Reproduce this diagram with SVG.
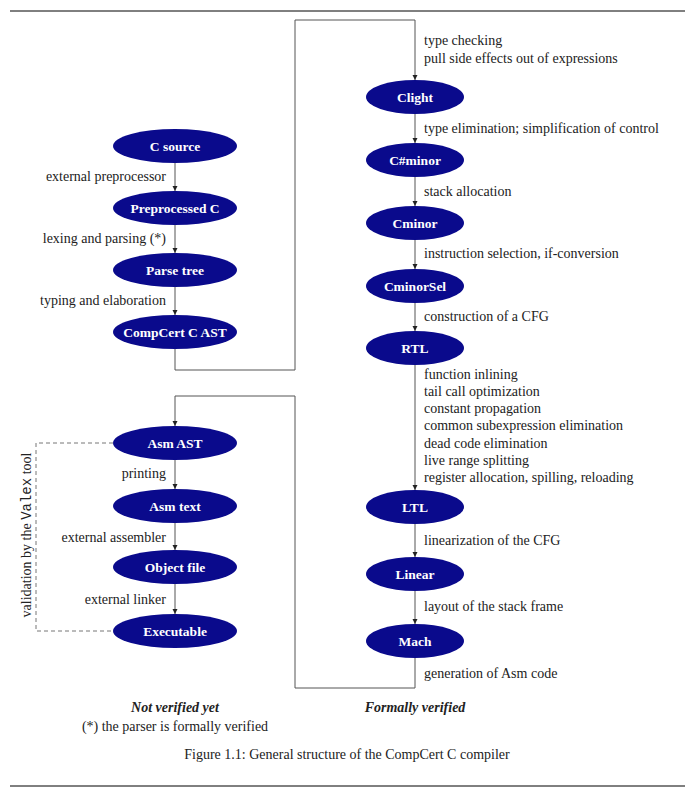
<svg xmlns="http://www.w3.org/2000/svg" width="693" height="796" viewBox="0 0 693 796">
<defs>
<style>
text{font-family:"Liberation Serif",serif;font-size:14px;fill:#222}
.n ellipse{fill:#0a0a8c}
.n text{fill:#fff;font-weight:bold;font-size:13.5px;text-anchor:middle}
.c{fill:none;stroke:#555;stroke-width:1}
.d{fill:none;stroke:#777;stroke-width:1;stroke-dasharray:4,3}
.t{text-anchor:middle}
</style>
<marker id="a" viewBox="0 0 10 10" refX="10" refY="5" markerWidth="5" markerHeight="7" orient="auto" markerUnits="userSpaceOnUse"><path d="M0,0L10,5L0,10z" fill="#222"/></marker>
</defs>
<rect width="693" height="796" fill="#fff"/>
<line x1="10" y1="11" x2="685" y2="11" stroke="#000"/>
<line x1="10" y1="786" x2="685" y2="786" stroke="#000"/>
<g id="connectors">
<path class="c" marker-end="url(#a)" d="M175,163V191"/>
<path class="c" marker-end="url(#a)" d="M175,225V253"/>
<path class="c" marker-end="url(#a)" d="M175,287V315"/>
<path class="c" marker-end="url(#a)" d="M175,349V370H295V20H415V80"/>
<path class="c" marker-end="url(#a)" d="M415,114V143"/>
<path class="c" marker-end="url(#a)" d="M415,177V206"/>
<path class="c" marker-end="url(#a)" d="M415,240V269"/>
<path class="c" marker-end="url(#a)" d="M415,303V331"/>
<path class="c" marker-end="url(#a)" d="M415,365V490"/>
<path class="c" marker-end="url(#a)" d="M415,524V557"/>
<path class="c" marker-end="url(#a)" d="M415,591V624"/>
<path class="c" marker-end="url(#a)" d="M415,658V688H295V396H175V426"/>
<path class="c" marker-end="url(#a)" d="M175,460V489"/>
<path class="c" marker-end="url(#a)" d="M175,523V550"/>
<path class="c" marker-end="url(#a)" d="M175,584V614"/>
<path class="d" d="M113,443H36V631H113"/>
</g>
<g id="csource" class="n"><ellipse cx="175" cy="146" rx="62" ry="17"/><text x="175" y="151">C source</text></g>
<g id="preproc" class="n"><ellipse cx="175" cy="208" rx="62" ry="17"/><text x="175" y="213">Preprocessed C</text></g>
<g id="parsetree" class="n"><ellipse cx="175" cy="270" rx="62" ry="17"/><text x="175" y="275">Parse tree</text></g>
<g id="ast" class="n"><ellipse cx="175" cy="332" rx="62" ry="17"/><text x="175" y="337">CompCert C AST</text></g>
<g id="asmast" class="n"><ellipse cx="175" cy="443" rx="62" ry="17"/><text x="175" y="448">Asm AST</text></g>
<g id="asmtext" class="n"><ellipse cx="175" cy="506" rx="62" ry="17"/><text x="175" y="511">Asm text</text></g>
<g id="objfile" class="n"><ellipse cx="175" cy="567" rx="62" ry="17"/><text x="175" y="572">Object file</text></g>
<g id="exe" class="n"><ellipse cx="175" cy="631" rx="62" ry="17"/><text x="175" y="636">Executable</text></g>
<g id="clight" class="n"><ellipse cx="415" cy="97" rx="49" ry="17"/><text x="415" y="102">Clight</text></g>
<g id="csharpminor" class="n"><ellipse cx="415" cy="160" rx="49" ry="17"/><text x="415" y="165">C#minor</text></g>
<g id="cminor" class="n"><ellipse cx="415" cy="223" rx="49" ry="17"/><text x="415" y="228">Cminor</text></g>
<g id="cminorsel" class="n"><ellipse cx="415" cy="286" rx="49" ry="17"/><text x="415" y="291">CminorSel</text></g>
<g id="rtl" class="n"><ellipse cx="415" cy="348" rx="49" ry="17"/><text x="415" y="353">RTL</text></g>
<g id="ltl" class="n"><ellipse cx="415" cy="507" rx="49" ry="17"/><text x="415" y="512">LTL</text></g>
<g id="linear" class="n"><ellipse cx="415" cy="574" rx="49" ry="17"/><text x="415" y="579">Linear</text></g>
<g id="mach" class="n"><ellipse cx="415" cy="641" rx="49" ry="17"/><text x="415" y="646">Mach</text></g>
<g id="labels">
<text x="166" y="181" text-anchor="end">external preprocessor</text>
<text x="166" y="243" text-anchor="end">lexing and parsing (*)</text>
<text x="166" y="305" text-anchor="end">typing and elaboration</text>
<text x="166" y="478" text-anchor="end">printing</text>
<text x="166" y="542" text-anchor="end">external assembler</text>
<text x="166" y="604" text-anchor="end">external linker</text>
<text x="424" y="45">type checking</text>
<text x="424" y="63">pull side effects out of expressions</text>
<text x="424" y="133">type elimination; simplification of control</text>
<text x="424" y="196">stack allocation</text>
<text x="424" y="258">instruction selection, if-conversion</text>
<text x="424" y="321">construction of a CFG</text>
<text x="424" y="379">function inlining</text>
<text x="424" y="396">tail call optimization</text>
<text x="424" y="413">constant propagation</text>
<text x="424" y="430">common subexpression elimination</text>
<text x="424" y="448">dead code elimination</text>
<text x="424" y="465">live range splitting</text>
<text x="424" y="482">register allocation, spilling, reloading</text>
<text x="424" y="545">linearization of the CFG</text>
<text x="424" y="611">layout of the stack frame</text>
<text x="424" y="678">generation of Asm code</text>
<text transform="translate(31,535) rotate(-90)" class="t">validation by the <tspan font-family="Liberation Mono,monospace">Valex</tspan> tool</text>
<text x="175" y="712" class="t" font-weight="bold" font-style="italic">Not verified yet</text>
<text x="175" y="731" class="t">(*) the parser is formally verified</text>
<text x="415" y="712" class="t" font-weight="bold" font-style="italic">Formally verified</text>
<text x="347" y="759" class="t" font-size="15">Figure 1.1: General structure of the CompCert C compiler</text>
</g>
</svg>
